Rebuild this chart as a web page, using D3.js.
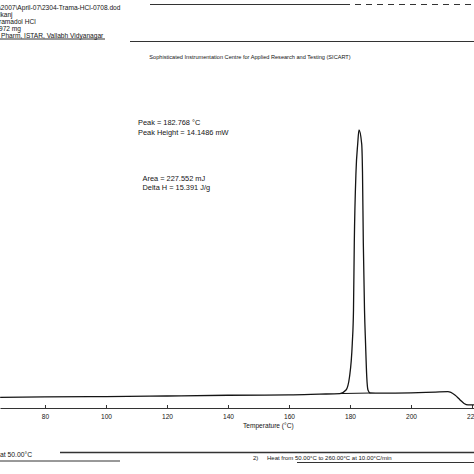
<!DOCTYPE html>
<html>
<head>
<meta charset="utf-8">
<script src="https://cdn.jsdelivr.net/npm/d3@7"></script>
<style>
  body { margin: 0; background: #fff; }
  svg { display: block; font-family: "Liberation Sans", Arial, sans-serif; }
</style>
</head>
<body>
<svg id="chart" width="474" height="474"></svg>
<script>
// DSC trace: temperature (°C) vs heat flow (mW, endo up)
const tempC = [65.3, 80, 100, 120, 140, 160, 170, 176.7, 178.7, 179.84, 180.76, 181.15, 181.41, 181.97, 182.53, 182.95,
  183.84, 184.1, 184.37, 184.76, 185.1, 185.5, 185.9, 186.6, 190, 200, 208, 212.1, 214.4, 216.1, 217.4, 218.7, 220.7];
const heatFlow = [0, 0.02, 0.04, 0.07, 0.11, 0.13, 0.17, 0.2, 0.39, 1.09, 2.91, 4.69, 8.28, 12.1, 13.6, 14.35,
  13.6, 12.1, 8.28, 4.69, 2.91, 1.09, 0.39, 0.23, 0.22, 0.24, 0.28, 0.3, 0.12, -0.14, -0.33, -0.41, -0.41];
// integration baseline under the peak
const baseTemp = [176.7, 186.6];
const baseFlow = [0.2, 0.23];
const tickTemps = [80, 100, 120, 140, 160, 180, 200, 220];

const headerLines = [
  '\\2007\\April-07\\2304-Trama-HCl-0708.dod',
  'lkanj',
  'ramadol HCl',
  '972 mg',
  ' Pharm, ISTAR, Vallabh Vidyanagar'
];
const titleText = 'Sophisticated Instrumentation Centre for Applied Research and Testing (SICART)';
const peakNotes = ['Peak = 182.768 °C', 'Peak Height = 14.1486 mW'];
const areaNotes = ['Area = 227.552 mJ', 'Delta H = 15.391 J/g'];
const xTitle = 'Temperature (°C)';
const footLeft = 'at 50.00°C';
const footRight = ['2)', 'Heat from 50.00°C to 260.00°C at 10.00°C/min'];

const svg = d3.select('#chart');
const ink = '#141414';

const x = d3.scaleLinear().domain([65.25, 220.66]).range([0, 474]);
const y = d3.scaleLinear().domain([0, 14.35]).range([397.3, 130]);

// header block
const hdr = svg.append('g').attr('font-size', 6.6).attr('fill', ink);
headerLines.forEach((t, i) => {
  hdr.append('text').attr('x', i === 4 ? 1 : -1).attr('y', 10 + i * 7).text(t);
});
const rule = (x1, x2, yy, w, dash) => {
  svg.append('line')
    .attr('x1', x1).attr('x2', x2).attr('y1', yy).attr('y2', yy)
    .attr('stroke', '#333').attr('stroke-width', w || 1)
    .attr('stroke-dasharray', dash || null);
};
rule(150, 350, 4.5, 1);
rule(355, 474, 4.5, 1, '6,5');
rule(0, 105, 39, 1);
rule(130, 474, 41.5, 1);

svg.append('text')
  .attr('x', 250).attr('y', 59)
  .attr('text-anchor', 'middle')
  .attr('font-size', 5.6)
  .attr('fill', ink)
  .text(titleText);

// annotations
const notes = svg.append('g').attr('font-size', 7.4).attr('fill', ink);
peakNotes.forEach((t, i) => notes.append('text').attr('x', 138).attr('y', 125 + i * 9.5).text(t));
areaNotes.forEach((t, i) => notes.append('text').attr('x', 142.5).attr('y', 181 + i * 9).text(t));

// axis
const xAxis = d3.axisBottom(x)
  .tickValues(tickTemps)
  .tickSizeInner(-3)
  .tickSizeOuter(0)
  .tickPadding(6);
const ax = svg.append('g').attr('transform', 'translate(0,408)').call(xAxis);
ax.select('.domain').attr('stroke', '#333');
ax.selectAll('.tick line').attr('stroke', '#333');
ax.selectAll('.tick text')
  .attr('font-size', 6.6)
  .attr('font-family', '"Liberation Sans", Arial, sans-serif')
  .attr('fill', ink);

svg.append('text')
  .attr('x', 243).attr('y', 427.5)
  .attr('font-size', 6.6)
  .attr('fill', ink)
  .text(xTitle);

// curve
const pts = tempC.map((t, i) => [t, heatFlow[i]]);
const line = d3.line()
  .x((d) => x(d[0]))
  .y((d) => y(d[1]))
  .curve(d3.curveMonotoneX);
svg.append('path')
  .attr('d', line(pts))
  .attr('fill', 'none')
  .attr('stroke', ink)
  .attr('stroke-width', 1.3);
svg.append('path')
  .attr('d', d3.line().x((d) => x(d[0])).y((d) => y(d[1]))(baseTemp.map((t, i) => [t, baseFlow[i]])))
  .attr('fill', 'none')
  .attr('stroke', ink)
  .attr('stroke-width', 1);

// footer
rule(60, 474, 452.5, 1.6);
rule(0, 120, 461, 1);
rule(297, 474, 462.5, 1);
svg.append('text').attr('x', 0).attr('y', 457).attr('font-size', 6.8).attr('fill', ink).text(footLeft);
svg.append('text').attr('x', 253).attr('y', 459.5).attr('font-size', 6).attr('fill', ink).text(footRight[0]);
svg.append('text').attr('x', 267).attr('y', 459.5).attr('font-size', 6).attr('fill', ink).text(footRight[1]);
</script>
</body>
</html>
